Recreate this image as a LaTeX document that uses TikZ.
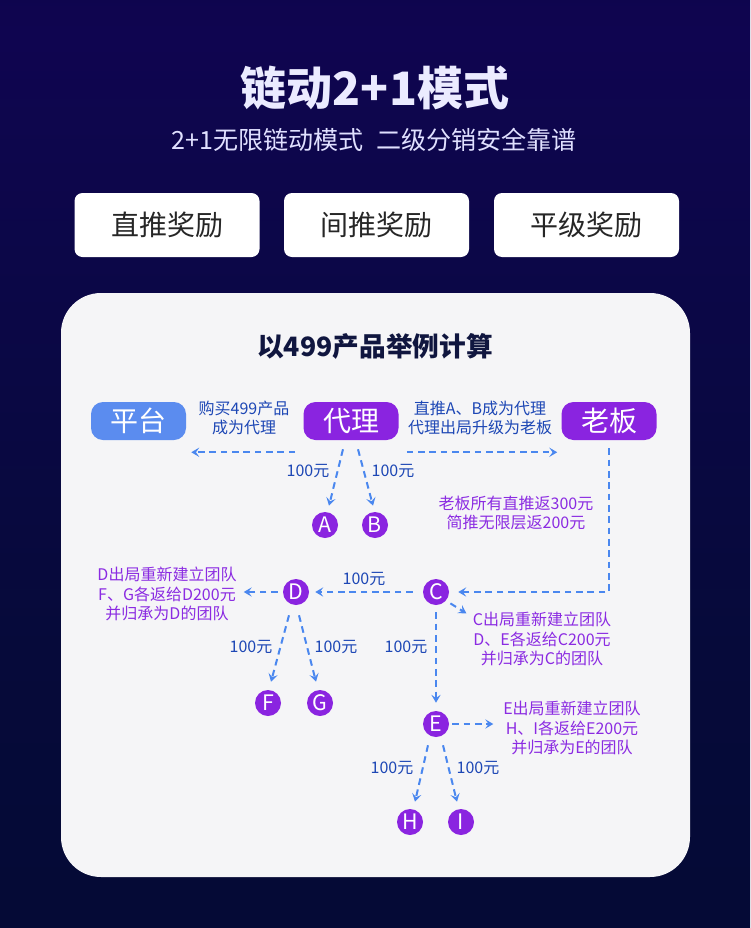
\documentclass[tikz,border=0pt]{standalone}
\usepackage{fontspec}
\setmainfont{Noto Sans CJK SC}
\usetikzlibrary{arrows.meta,calc}
\definecolor{bgt}{HTML}{07013A}
\definecolor{bgm}{HTML}{0F0550}
\definecolor{bgb2}{HTML}{060A3A}
\definecolor{bgb}{HTML}{020B2E}
\definecolor{cardc}{HTML}{F5F5F7}
\definecolor{cpurple}{HTML}{8A24E0}
\definecolor{cpurtext}{HTML}{8B2BE2}
\definecolor{cblueb}{HTML}{5B8CEF}
\definecolor{carrow}{HTML}{4A87EF}
\definecolor{cbluetext}{HTML}{1D47B5}
\definecolor{ctitle}{HTML}{10163F}
\pgfdeclareverticalshading{bgsh}{100bp}{color(0bp)=(bgb); color(40bp)=(bgb2); color(73bp)=(bgm); color(100bp)=(bgt)}
\tikzset{
  btn/.style={fill=white, rounded corners=6pt, minimum width=138.75pt, minimum height=48pt, inner sep=0, text=black!85, font=\fontsize{21}{25}\selectfont},
  rectnode/.style={rounded corners=9pt, minimum width=71.25pt, minimum height=28.5pt, inner sep=0, text=white, font=\fontsize{21}{24}\selectfont},
  circ/.style={circle, fill=cpurple, minimum size=19.5pt, inner sep=0, text=white, font=\fontsize{16}{18}\selectfont},
  arr/.style={draw=carrow, line width=1.5pt, dash pattern=on 5pt off 3.5pt, -{Stealth[length=6pt,width=7pt,inset=2.5pt]}},
  blab/.style={text=cbluetext, font=\fontsize{12}{14.5}\selectfont, align=center, inner sep=0},
  plab/.style={text=cpurtext, font=\fontsize{12}{14.5}\selectfont, align=center, inner sep=0},
}
\begin{document}
\begin{tikzpicture}[x=0.75pt,y=-0.75pt]
\useasboundingbox (0,0) rectangle (750,928);
\shade[shading=bgsh] (0,0) rectangle (750,928);
% title
\node[text=white!92!blue, font=\fontsize{34.5}{40}\selectfont\bfseries] (title) at (375,88) {链动2+1模式};
\node[text=white!88!blue, font=\fontsize{18.8}{24}\selectfont] (sub) at (374,140) {2+1无限链动模式\hspace{0.5em}二级分销安全靠谱};
% buttons
\node[btn] (b1) at (167,225) {直推奖励};
\node[btn] (b2) at (376.5,225) {间推奖励};
\node[btn] (b3) at (586.5,225) {平级奖励};
% card
\fill[cardc, rounded corners=30pt] (61,293) rectangle (690,877);
\node[text=ctitle, font=\fontsize{20}{24}\selectfont\bfseries] (ctitle) at (375,346) {以499产品举例计算};
% main nodes
\node[rectnode, fill=cblueb] (pt) at (138.5,421) {平台};
\node[rectnode, fill=cpurple] (dl) at (351,421) {代理};
\node[rectnode, fill=cpurple] (lb) at (609,421) {老板};
% circles
\node[circ] (A) at (325,525) {A};
\node[circ] (B) at (375,525) {B};
\node[circ] (C) at (436,592) {C};
\node[circ] (D) at (296,592) {D};
\node[circ] (F) at (268,703) {F};
\node[circ] (G) at (320,703) {G};
\node[circ] (E) at (436,724) {E};
\node[circ] (H) at (410,822) {H};
\node[circ] (I) at (461,822) {I};
% labels
\node[blab] (l1) at (244,418) {购买499产品\\成为代理};
\node[blab] (l2) at (480,418) {直推A、B成为代理\\代理出局升级为老板};
\node[blab] (l3) at (308,471) {100元};
\node[blab] (l4) at (393,471) {100元};
\node[plab] (l5) at (516,513) {老板所有直推返300元\\简推无限层返200元};
\node[blab] (l6) at (364,579) {100元};
\node[plab] (l7) at (167,594) {D出局重新建立团队\\F、G各返给D200元\\并归承为D的团队};
\node[plab] (l8) at (542,639) {C出局重新建立团队\\D、E各返给C200元\\并归承为C的团队};
\node[blab] (l9) at (251,647) {100元};
\node[blab] (l10) at (336,647) {100元};
\node[blab] (l11) at (406,647) {100元};
\node[plab] (l12) at (572,728) {E出局重新建立团队\\H、I各返给E200元\\并归承为E的团队};
\node[blab] (l13) at (392,768) {100元};
\node[blab] (l14) at (478,768) {100元};
% connectors
\draw[arr] ($(dl.south west)+(-8,12)$) -- ($(pt.south east)+(5,12)$);
\draw[arr] ($(dl.south east)+(8,12)$) -- ($(lb.south west)+(-4,12)$);
\draw[arr] ($(dl.south)+(-8,9)$) -- ($(A.north)+(4,-6)$);
\draw[arr] ($(dl.south)+(7,9)$) -- ($(B.north)+(-2,-6)$);
\draw[arr] ($(lb.south)+(0,8)$) |- ($(C.east)+(9,0)$);
\draw[arr] ($(C.west)+(-10,0)$) -- ($(D.east)+(6,0)$);
\coordinate (Dout) at ($(D.west)+(-39,0)$);
\draw[arr] ($(D.west)+(-5,0)$) -- (Dout);
\coordinate (Cout) at ($(C.south east)+(21,12)$);
\draw[arr] ($(C.south east)+(5,2)$) -- (Cout);
\draw[arr] ($(C.south)+(0,7)$) -- ($(E.north)+(0,-8)$);
\draw[arr] ($(D.south)+(-7,10)$) -- ($(F.north)+(3,-8)$);
\draw[arr] ($(D.south)+(3,10)$) -- ($(G.north)+(-4,-8)$);
\coordinate (Eout) at ($(E.east)+(44,0)$);
\draw[arr] ($(E.east)+(3,0)$) -- (Eout);
\draw[arr] ($(E.south)+(-8,8)$) -- ($(H.north)+(5,-7)$);
\draw[arr] ($(E.south)+(7,8)$) -- ($(I.north)+(-4,-7)$);
\end{tikzpicture}
\end{document}
